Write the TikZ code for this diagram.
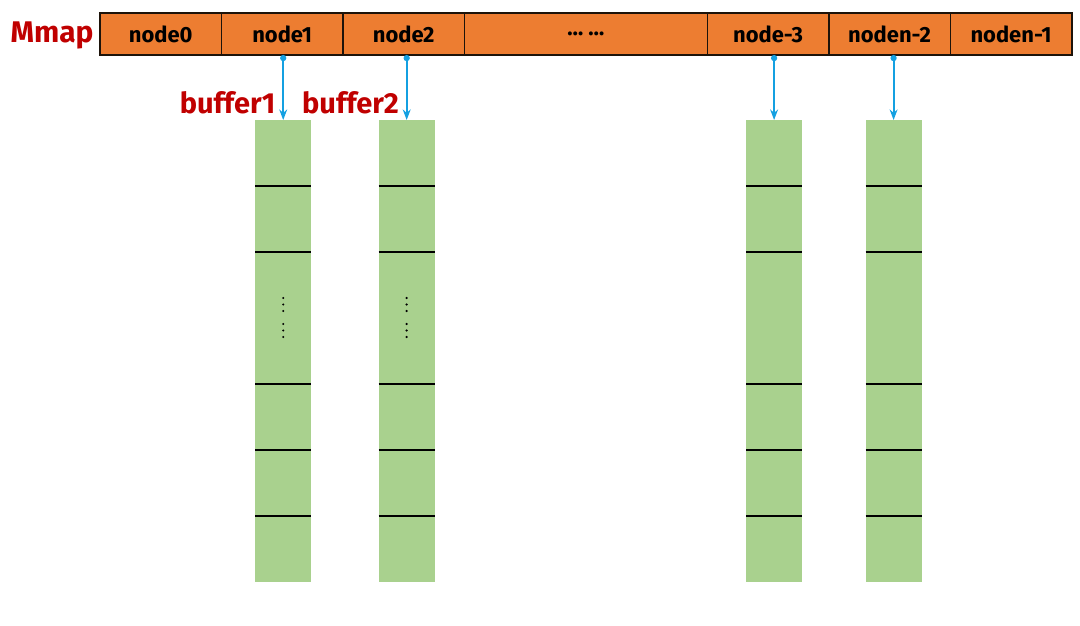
\documentclass[tikz,border=0pt]{standalone}
\usepackage{fontspec}
\setmainfont{Fira Sans}
\usetikzlibrary{positioning,calc,arrows.meta}

\definecolor{mmaporange}{RGB}{237,125,49}
\definecolor{bufgreen}{RGB}{169,209,142}
\definecolor{ptrblue}{RGB}{20,160,225}
\definecolor{labelred}{RGB}{192,0,0}

\begin{document}
\begin{tikzpicture}[x=0.02cm, y=-0.02cm, node distance=0cm, outer sep=0pt,
    cell/.style={draw=black!85!brown, line width=0.9pt, fill=mmaporange, minimum width=2.43cm,
        minimum height=0.84cm, font=\bfseries\fontsize{12.5}{14}\selectfont},
    bufcol/.style={fill=bufgreen, minimum width=1.12cm, minimum height=9.24cm, anchor=north},
    bufname/.style={text=labelred, font=\bfseries\fontsize{16.5}{19}\selectfont},
    ptr/.style={draw=ptrblue, line width=1.1pt, {Circle[length=3.5pt]}-{Stealth[length=6pt]}}]
    \useasboundingbox (0,0) rectangle (1080,626);

    % the mmap row
    \node [cell, anchor=north west] (n0) at (100,13) {node0};
    \node [cell, right=of n0] (n1) {node1};
    \node [cell, right=of n1] (n2) {node2};
    \node [cell, right=of n2, minimum width=4.86cm] (ndots) {\textbf{\dots\ \dots}};
    \node [cell, right=of ndots] (nm3) {node-3};
    \node [cell, right=of nm3] (nm2) {noden-2};
    \node [cell, right=of nm2] (nm1) {noden-1};
    \node [text=labelred, font=\bfseries\fontsize{17}{20}\selectfont] (mmap) at (52,35) {Mmap};

    % buffers
    \node [bufcol, xshift=0.02cm] (b1) at (n1.south |- 0,120) {};
    \node [bufcol, xshift=0.06cm] (b2) at (n2.south |- 0,120) {};
    \node [bufcol, xshift=0.12cm] (b3) at (nm3.south |- 0,120) {};
    \node [bufcol, xshift=0.08cm] (b4) at (nm2.south |- 0,120) {};

    \foreach \b in {b1,b2,b3,b4} {
        \foreach \y in {66,132,264,330,396}
            \draw [line width=0.8pt] ($(\b.north west)+(0,\y)$) -- ($(\b.north east)+(0,\y)$);
    }
    \foreach \b in {b1,b2} {
        \foreach \d in {0,6.5,13,26,32.5,39}
            \fill ($(\b.north)+(0,178+\d)$) circle (1.2);
    }

    \node [bufname, anchor=base east] (lb1) at ($(b1.north)+(-2,-7)$) {buffer1};
    \node [bufname, anchor=base east] (lb2) at ($(b2.north)+(-2,-7)$) {buffer2};

    \draw [ptr] (b1.north |- n1.south) -- (b1.north);
    \draw [ptr] (b2.north |- n2.south) -- (b2.north);
    \draw [ptr] (b3.north |- nm3.south) -- (b3.north);
    \draw [ptr] (b4.north |- nm2.south) -- (b4.north);
\end{tikzpicture}
\end{document}
